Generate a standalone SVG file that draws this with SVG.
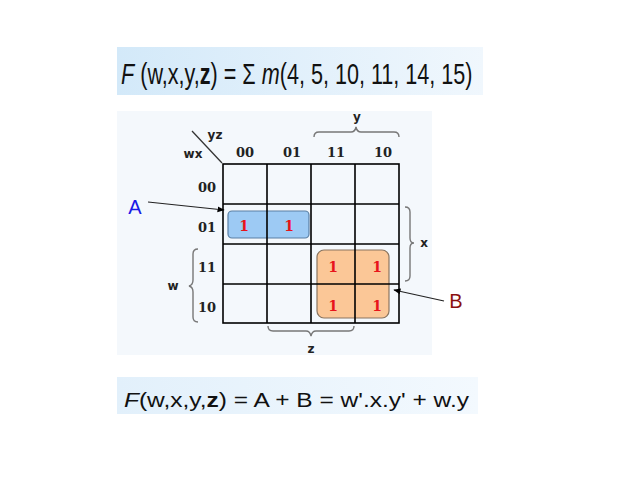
<svg xmlns="http://www.w3.org/2000/svg" width="638" height="478" viewBox="0 0 638 478">
<defs>
<linearGradient id="g1" x1="0" y1="0" x2="1" y2="0">
<stop offset="0" stop-color="#d3e9f9"/>
<stop offset="1" stop-color="#f0f7fd"/>
</linearGradient>
<linearGradient id="g2" x1="0" y1="0" x2="1" y2="0">
<stop offset="0" stop-color="#e2f0fb"/>
<stop offset="1" stop-color="#f3f9fe"/>
</linearGradient>
<marker id="ah" viewBox="0 0 10 10" refX="9" refY="5" markerWidth="6" markerHeight="6" orient="auto">
<path d="M0,1 L10,5 L0,9 z" fill="#000"/>
</marker>
<style>
.hdr{font-family:"DejaVu Serif",serif;font-weight:bold;font-size:13px;fill:#222;text-anchor:middle}
.var{font-family:"DejaVu Sans",sans-serif;font-weight:bold;font-size:12px;fill:#222;text-anchor:middle}
.one{font-family:"DejaVu Serif",serif;font-weight:bold;font-size:14px;fill:#e8141b;text-anchor:middle}
.grid{stroke:#000;stroke-width:1.6;fill:none}
.brace{stroke:#777;stroke-width:1.4;fill:none}
.conn{stroke:#222;stroke-width:1.2;fill:none;marker-end:url(#ah)}
</style>
</defs>
<rect width="638" height="478" fill="#fff"/>

<g id="formula-top">
<rect x="117" y="47" width="366" height="48" fill="url(#g1)"/>
<g transform="translate(121,84) scale(0.72,1)">
<text x="0" y="0" font-family="Liberation Sans, sans-serif" font-size="30" fill="#111"><tspan font-style="italic">F</tspan> (w,x,y,<tspan font-weight="bold">z</tspan>) = Σ <tspan font-style="italic">m</tspan>(4, 5, 10, 11, 14, 15)</text>
</g>
</g>

<g id="kmap-panel">
<rect x="117" y="111" width="315" height="244" fill="#f4f8fc"/>
</g>

<g id="group-A">
<rect x="228" y="211" width="81" height="27" rx="4" fill="#9dcaf4" stroke="#5a7fa3" stroke-width="1.2"/>
</g>
<g id="group-B">
<rect x="317" y="250" width="72" height="68" rx="7" fill="#fbc797" stroke="#8a7560" stroke-width="1.2"/>
</g>

<g id="grid">
<rect class="grid" x="223" y="164" width="176" height="159"/>
<path class="grid" d="M267,164V323M311,164V323M355,164V323M223,204H399M223,244H399M223,284H399"/>
<line x1="192" y1="131" x2="222" y2="163" stroke="#333" stroke-width="1.2"/>
</g>

<g id="labels">
<text class="var" x="215" y="139">yz</text>
<text class="var" x="193" y="158">wx</text>
<text class="hdr" x="245" y="157">00</text>
<text class="hdr" x="292" y="157">01</text>
<text class="hdr" x="336" y="157">11</text>
<text class="hdr" x="383" y="157">10</text>
<text class="hdr" x="207" y="192">00</text>
<text class="hdr" x="207" y="232">01</text>
<text class="hdr" x="207" y="272">11</text>
<text class="hdr" x="207" y="312">10</text>
</g>

<g id="cells">
<text class="one" x="244" y="231">1</text>
<text class="one" x="289" y="231">1</text>
<text class="one" x="333" y="272">1</text>
<text class="one" x="377" y="272">1</text>
<text class="one" x="333" y="311">1</text>
<text class="one" x="377" y="311">1</text>
</g>

<g id="brace-y">
<path class="brace" d="M314,137 Q314,132 319,132 L351,132 Q355,132 356,127 Q357,132 361,132 L394,132 Q399,132 399,137"/>
<text class="var" x="357" y="121">y</text>
</g>
<g id="brace-x">
<path class="brace" d="M405,207 Q410,207 410,212 L410,238 Q410,243 414,243 Q410,243 410,248 L410,276 Q410,281 405,281"/>
<text class="var" x="424" y="247">x</text>
</g>
<g id="brace-w">
<path class="brace" d="M198,249 Q193,249 193,254 L193,280 Q193,285 189,286 Q193,287 193,292 L193,317 Q193,322 198,322"/>
<text class="var" x="173" y="290">w</text>
</g>
<g id="brace-z">
<path class="brace" d="M268,326 Q268,331 273,331 L306,331 Q310,331 311,336 Q312,331 316,331 L349,331 Q354,331 354,326"/>
<text class="var" x="311" y="353">z</text>
</g>

<g id="connectors">
<line class="conn" x1="148" y1="202" x2="224" y2="210"/>
<line class="conn" x1="444" y1="301" x2="394" y2="290"/>
</g>
<g id="label-A">
<text x="135" y="214" font-family="Liberation Sans, sans-serif" font-size="20" fill="#1a1ae6" text-anchor="middle">A</text>
</g>
<g id="label-B">
<text x="456" y="308" font-family="Liberation Sans, sans-serif" font-size="20" fill="#8b1010" text-anchor="middle">B</text>
</g>

<g id="formula-bottom">
<rect x="117" y="377" width="361" height="37" fill="url(#g2)"/>
<text x="124" y="407" font-family="Liberation Sans, sans-serif" font-size="20" fill="#111" textLength="345" lengthAdjust="spacingAndGlyphs"><tspan font-style="italic">F</tspan>(w,x,y,<tspan font-weight="bold">z</tspan>) = A + B = w'.x.y' + w.y</text>
</g>
</svg>
